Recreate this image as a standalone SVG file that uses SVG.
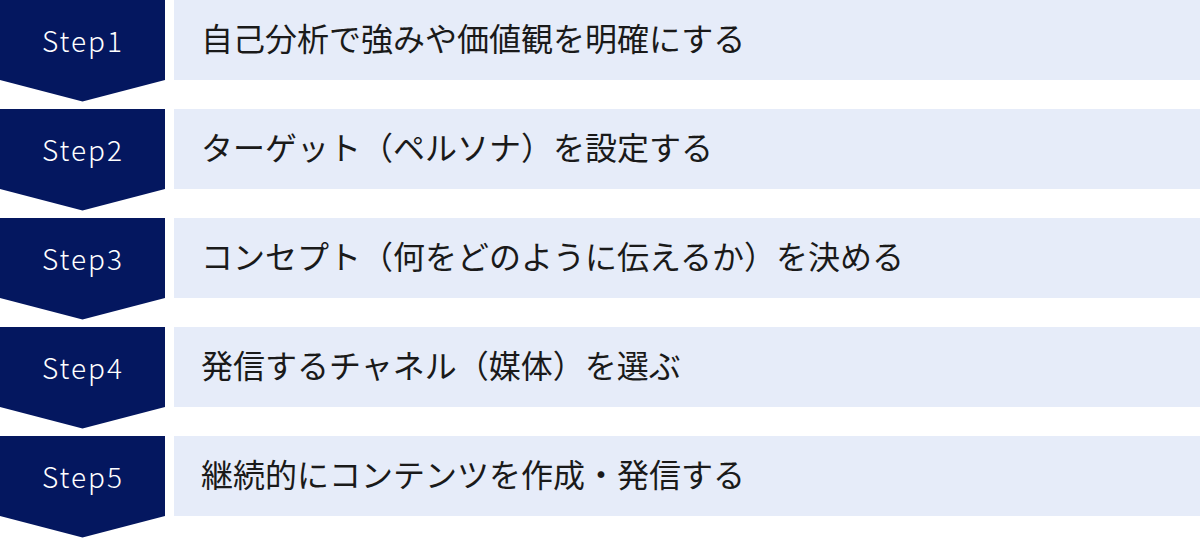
<svg xmlns="http://www.w3.org/2000/svg" width="1200" height="538" viewBox="0 0 1200 538">
<defs>
<style>
.badge{fill:#04175f}
.bar{fill:#e6ecf9}
.step{font-family:"Noto Sans CJK JP","Noto Sans",sans-serif;font-size:28px;font-weight:300;fill:#ffffff;text-anchor:middle;letter-spacing:2px}
.label{font-family:"Noto Sans CJK JP","Noto Sans",sans-serif;font-size:32px;fill:#1a1a1a}
</style>
<path id="chev" d="M0 0H165V80L82.5 101.5L0 80Z"/>
</defs>
<rect width="1200" height="538" fill="#ffffff"/>
<g id="connectors"></g>
<g id="step1">
<use href="#chev" class="badge" x="0" y="0"/>
<rect class="bar" x="174" y="0" width="1026" height="80"/>
<text class="step" x="83" y="52">Step1</text>
<text class="label" x="201" y="51">自己分析で強みや価値観を明確にする</text>
</g>
<g id="step2">
<use href="#chev" class="badge" x="0" y="109"/>
<rect class="bar" x="174" y="109" width="1026" height="80"/>
<text class="step" x="83" y="161">Step2</text>
<text class="label" x="201" y="160">ターゲット（ペルソナ）を設定する</text>
</g>
<g id="step3">
<use href="#chev" class="badge" x="0" y="218"/>
<rect class="bar" x="174" y="218" width="1026" height="80"/>
<text class="step" x="83" y="270">Step3</text>
<text class="label" x="201" y="269">コンセプト（何をどのように伝えるか）を決める</text>
</g>
<g id="step4">
<use href="#chev" class="badge" x="0" y="327"/>
<rect class="bar" x="174" y="327" width="1026" height="80"/>
<text class="step" x="83" y="379">Step4</text>
<text class="label" x="201" y="378">発信するチャネル（媒体）を選ぶ</text>
</g>
<g id="step5">
<use href="#chev" class="badge" x="0" y="436"/>
<rect class="bar" x="174" y="436" width="1026" height="80"/>
<text class="step" x="83" y="488">Step5</text>
<text class="label" x="201" y="487">継続的にコンテンツを作成・発信する</text>
</g>
</svg>
